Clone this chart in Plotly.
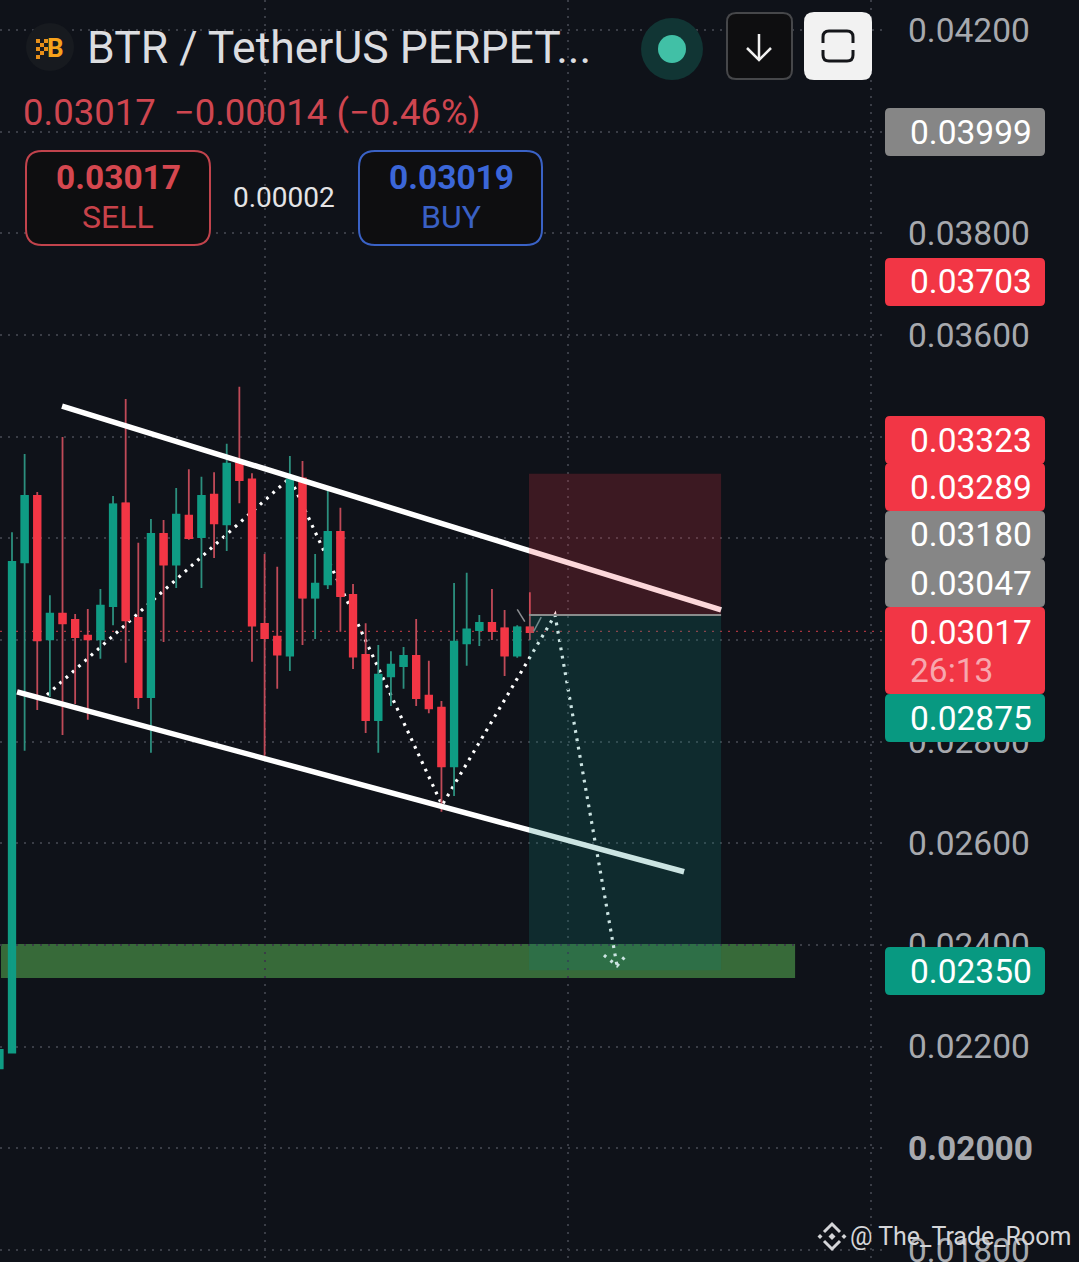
import plotly.graph_objects as go

# ---- Candle data ----
bar_index = list(range(-1, 42))
highs = [.02193, .03212, .03366, .03291, .03088, .03399, .03051, .03061, .03100, .03283, .03474,
         .03191, .03238, .03236, .03299, .03336, .03321, .03330, .03386, .03498, .03328, .03169,
         .03144, .03362, .03352, .03169, .03293, .03260, .03110, .03033, .02990, .02978, .02986,
         .03041, .02959, .02880, .03112, .03132, .03049, .03100, .03059, .03029, .03094]
opens = [.02158, .02189, .03153, .03283, .03002, .03051, .03039, .03008, .03002, .03067, .03268,
         .03043, .02888, .03208, .03149, .03244, .03203, .03285, .03228, .03348, .03315, .03031,
         .03006, .02970, .03317, .03084, .03110, .03212, .03088, .02970, .02843, .02929, .02949,
         .02968, .02890, .02866, .02752, .02994, .03020, .03033, .03022, .02970, .03024]
closes = [.02193, .03153, .03283, .03000, .03051, .03033, .03006, .03002, .03067, .03266, .03039,
          .02888, .03208, .03149, .03246, .03201, .03283, .03230, .03346, .03315, .03029, .03004,
          .02972, .03315, .03084, .03110, .03212, .03087, .02968, .02843, .02931, .02951, .02968,
          .02886, .02866, .02752, .02996, .03020, .03033, .03018, .02970, .03024, .03016]
lows = [.02158, .02189, .02782, .02862, .02888, .02813, .02874, .02843, .02963, .03029, .02955,
        .02864, .02778, .02996, .03102, .03197, .03102, .03161, .03175, .03269, .02957, .02772,
        .02904, .02939, .02990, .03002, .03100, .03016, .02943, .02817, .02778, .02870, .02904,
        .02870, .02856, .02662, .02693, .02949, .02988, .03000, .02929, .02965, .03000]

# ---- Price axis ----
tick_prices = [.042, .040, .038, .036, .034, .032, .030, .028, .026, .024, .022, .020, .018]
tick_labels = ["0.04200", "0.04000", "0.03800", "0.03600", "0.03400", "0.03200", "0.03000",
               "0.02800", "0.02600", "0.02400", "0.02200", "<b>0.02000</b>", "0.01800"]
grid_bars = [20, 44, 68]
last_price = 0.03017

# ---- Drawings ----
upper_line_x, upper_line_y = [3.96, 56.14], [.03460, .03059]
lower_line_x, lower_line_y = [0.40, 53.21], [.02898, .02544]
path_x = [2.77, 22.01, 34.05, 42.99, 47.90]
path_y = [.02892, .03319, .02675, .03049, .02359]
head_x = [46.87, 47.90, 48.77]
head_y = [.02380, .02359, .02384]
arrow_x = [40.0, 40.6, None, 41.3, 41.9]
arrow_y = [.03060, .03036, None, .03017, .03045]
tool_x0, tool_x1 = 40.93, 56.14
tool_stop, tool_entry, tool_target = .03327, .03049, .02350
zone_x0, zone_x1 = -0.87, 62.0
zone_low, zone_high = .02335, .02402

# ---- Price tags: text, centre row, fill ----
tag_texts = ["0.03999", "0.03703", "0.03323", "0.03289", "0.03180", "0.03047", "0.03017", "0.02875", "0.02350"]
tag_rows = [132, 282, 440, 487, 535, 583, 632, 718, 971]
tag_fills = ["#868686", "#f23645", "#f23645", "#f23645", "#868686", "#868686", "#f23645", "#089981", "#089981"]

W, H, PLOT_W = 1079, 1262, 882
BG = "#0f1219"
RED, GREEN = "#f23645", "#0f9c84"
WICK_RED, WICK_GREEN = "#c04a58", "#2c8f7e"
FONT = "Roboto"


def X(px):
    return px / PLOT_W


def Y(py):
    return 1 - py / H


def rrect(x0, y0, x1, y1, r):
    p = [
        f"M {X(x0 + r)} {Y(y0)}", f"L {X(x1 - r)} {Y(y0)}", f"Q {X(x1)} {Y(y0)} {X(x1)} {Y(y0 + r)}",
        f"L {X(x1)} {Y(y1 - r)}", f"Q {X(x1)} {Y(y1)} {X(x1 - r)} {Y(y1)}",
        f"L {X(x0 + r)} {Y(y1)}", f"Q {X(x0)} {Y(y1)} {X(x0)} {Y(y1 - r)}",
        f"L {X(x0)} {Y(y0 + r)}", f"Q {X(x0)} {Y(y0)} {X(x0 + r)} {Y(y0)}", "Z",
    ]
    return " ".join(p)


def poly(points, close=True):
    s = " ".join(("M" if i == 0 else "L") + f" {X(a)} {Y(b)}" for i, (a, b) in enumerate(points))
    return s + (" Z" if close else "")


def data_path(xs, ys):
    return " ".join(("M" if i == 0 else "L") + f" {a} {b}" for i, (a, b) in enumerate(zip(xs, ys)))


def ui_path(path, fill=None, line=None, lw=0):
    return dict(type="path", xref="paper", yref="paper", path=path, layer="above",
                fillcolor=fill or "rgba(0,0,0,0)", line=dict(color=line or "rgba(0,0,0,0)", width=lw))


def ui_circle(cx, cy, r, fill):
    return dict(type="circle", xref="paper", yref="paper", layer="above", fillcolor=fill, line=dict(width=0),
                x0=X(cx - r), x1=X(cx + r), y0=Y(cy + r), y1=Y(cy - r))


def label(text, px, py, size, color, anchor="left", bold=False):
    return dict(text=f"<b>{text}</b>" if bold else text, x=X(px), y=Y(py), xref="paper", yref="paper",
                xanchor=anchor, yanchor="middle", showarrow=False,
                font=dict(family=FONT, size=size, color=color))


fig = go.Figure()

# Wicks (and thin outlines)
fig.add_trace(go.Candlestick(
    x=bar_index, open=opens, high=highs, low=lows, close=closes, whiskerwidth=0,
    increasing=dict(line=dict(color=WICK_GREEN, width=1.8), fillcolor=GREEN),
    decreasing=dict(line=dict(color=WICK_RED, width=1.8), fillcolor=RED),
    showlegend=False, hoverinfo="skip"))
# Bodies on top of the wicks
fig.add_trace(go.Candlestick(
    x=bar_index, open=opens, close=closes,
    high=[max(a, b) for a, b in zip(opens, closes)],
    low=[min(a, b) for a, b in zip(opens, closes)], whiskerwidth=0,
    increasing=dict(line=dict(color=GREEN, width=2.4), fillcolor=GREEN),
    decreasing=dict(line=dict(color=RED, width=2.4), fillcolor=RED),
    showlegend=False, hoverinfo="skip"))

fig.add_trace(go.Scatter(x=upper_line_x, y=upper_line_y, mode="lines", line=dict(color="#ffffff", width=5.5),
                         showlegend=False, hoverinfo="skip"))
fig.add_trace(go.Scatter(x=lower_line_x, y=lower_line_y, mode="lines", line=dict(color="#ffffff", width=5.5),
                         showlegend=False, hoverinfo="skip"))
fig.add_trace(go.Scatter(x=arrow_x, y=arrow_y, mode="lines", line=dict(color="#8d8f93", width=1.5),
                         showlegend=False, hoverinfo="skip"))

DOTS = dict(color="#ffffff", width=3.2, dash="2.8px,5.6px")
shapes = [
    # demand zone
    dict(type="rect", xref="x", yref="y", x0=zone_x0, x1=zone_x1, y0=zone_low, y1=zone_high,
         fillcolor="#376a39", line=dict(width=0), layer="below"),
    # last-price line
    dict(type="line", xref="paper", yref="y", x0=0, x1=X(885), y0=last_price, y1=last_price,
         line=dict(color="#a8343f", width=1.2, dash="2px,6px"), layer="below"),
    # forecast path, under the candles
    dict(type="path", xref="x", yref="y", path=data_path(path_x, path_y), line=DOTS, layer="below"),
    dict(type="path", xref="x", yref="y", path=data_path(head_x, head_y), line=DOTS, layer="below"),
    # position tool
    dict(type="rect", xref="x", yref="y", x0=tool_x0, x1=tool_x1, y0=tool_entry, y1=tool_stop,
         fillcolor="rgba(242,54,69,0.2)", line=dict(width=0), layer="above"),
    dict(type="rect", xref="x", yref="y", x0=tool_x0, x1=tool_x1, y0=tool_target, y1=tool_entry,
         fillcolor="rgba(20,130,125,0.22)", line=dict(width=0), layer="above"),
    dict(type="line", xref="x", yref="y", x0=tool_x0, x1=tool_x1, y0=tool_entry, y1=tool_entry,
         line=dict(color="#8a8c8c", width=2), layer="above"),
]

annotations = []

# price tags
for text, row, fill in zip(tag_texts, tag_rows, tag_fills):
    tall = text == "0.03017"
    y0, y1 = (607, 694) if tall else (row - 24, row + 24)
    shapes.append(ui_path(rrect(885, y0, 1045, y1, 5), fill=fill))
    annotations.append(label(text, 907.5, row, 33.5, "#ffffff"))
annotations.append(label("26:13", 907.5, 670.5, 33.5, "#f7a7ae"))

# symbol header
shapes.append(ui_circle(50, 47, 24, "#171a1f"))
for a, b in [(36, 39), (44, 39), (40, 43), (36, 47), (44, 47), (40, 51), (36, 55)]:
    shapes.append(ui_path(poly([(a, b), (a + 4, b), (a + 4, b + 4), (a, b + 4)]), fill="#e8901a"))
annotations.append(label("B", 55, 48, 26, "#f7a21b", "center", True))
annotations.append(label("BTR / TetherUS PERPET...", 85, 47.5, 44.5, "#dcdde0"))
annotations.append(label("0.03017  −0.00014 (−0.46%)", 20.5, 112, 36.5, "#cf4650"))

# sell / buy
shapes.append(ui_path(rrect(26, 151, 210, 245, 16), fill="#0e0e10", line="#c1434c", lw=2))
shapes.append(ui_path(rrect(359, 151, 542, 245, 16), fill="#0e0e10", line="#3a62c6", lw=2))
annotations += [
    label("0.03017", 118, 177, 33.5, "#d5474f", "center", True),
    label("SELL", 118, 217, 32, "#c8424a", "center"),
    label("0.00002", 284, 197, 28, "#e4e4e6", "center"),
    label("0.03019", 451, 177, 33.5, "#3b66d8", "center", True),
    label("BUY", 451, 217, 32, "#3a60c4", "center"),
]

# status dot and buttons
shapes += [ui_circle(672, 49, 31, "#113534"), ui_circle(672, 49, 14, "#41c0a6")]
shapes.append(ui_path(rrect(727, 13, 792, 79, 9), fill="#0e0e10", line="#46474a", lw=2))
shapes.append(ui_path(poly([(759, 34), (759, 60)], close=False), line="#f0f0f0", lw=2.5))
shapes.append(ui_path(poly([(747, 48), (759, 60), (771, 48)], close=False), line="#f0f0f0", lw=2.5))
shapes.append(ui_path(rrect(804, 12, 872, 80, 10), fill="#f2f2f2"))
corner = (f"M {X(823)} {Y(43)} L {X(823)} {Y(37)} Q {X(823)} {Y(31)} {X(829)} {Y(31)} "
          f"L {X(847)} {Y(31)} Q {X(853)} {Y(31)} {X(853)} {Y(37)} L {X(853)} {Y(43)} "
          f"M {X(823)} {Y(50)} L {X(823)} {Y(55)} Q {X(823)} {Y(61)} {X(829)} {Y(61)} "
          f"L {X(847)} {Y(61)} Q {X(853)} {Y(61)} {X(853)} {Y(55)} L {X(853)} {Y(50)}")
shapes.append(ui_path(corner, line="#15161a", lw=3))

# watermark
shapes.append(ui_path(poly([(824, 1232), (832, 1224), (840, 1232)], close=False), line="#d4d5d8", lw=3))
shapes.append(ui_path(poly([(824, 1241), (832, 1249), (840, 1241)], close=False), line="#d4d5d8", lw=3))
for cx, cy, r in [(832, 1236.5, 3.5), (820, 1236.5, 2.5), (844, 1236.5, 2.5)]:
    shapes.append(ui_path(poly([(cx, cy - r), (cx + r, cy), (cx, cy + r), (cx - r, cy)]), fill="#d4d5d8"))
annotations.append(label("@ The_Trade_Room", 848, 1236, 25, "#d4d5d8"))

fig.update_layout(
    width=W, height=H, margin=dict(l=0, r=W - PLOT_W, t=0, b=0, pad=0), autosize=False,
    paper_bgcolor=BG, plot_bgcolor=BG, boxgap=0.33, showlegend=False,
    shapes=shapes, annotations=annotations,
    xaxis=dict(range=[-0.95, 68.88], tickvals=grid_bars, showticklabels=False, ticks="",
               showgrid=True, gridcolor="#3a3d46", griddash="2px,6px", gridwidth=2, automargin=False,
               zeroline=False, rangeslider=dict(visible=False), showline=False),
    yaxis=dict(range=[0.017763, 0.042589], side="right", tickvals=tick_prices, ticktext=tick_labels,
               showgrid=True, gridcolor="#3a3d46", griddash="2px,6px", gridwidth=1.5, automargin=False,
               zeroline=False, showline=False, ticks="", ticklabelstandoff=25, ticklabeloverflow="allow",
               tickfont=dict(family=FONT, size=33.5, color="#a7a9ae")),
)

fig.write_html("out.html", config=dict(displayModeBar=False),
               post_script="document.body.style.margin='0';document.body.style.background='#0f1219';")
